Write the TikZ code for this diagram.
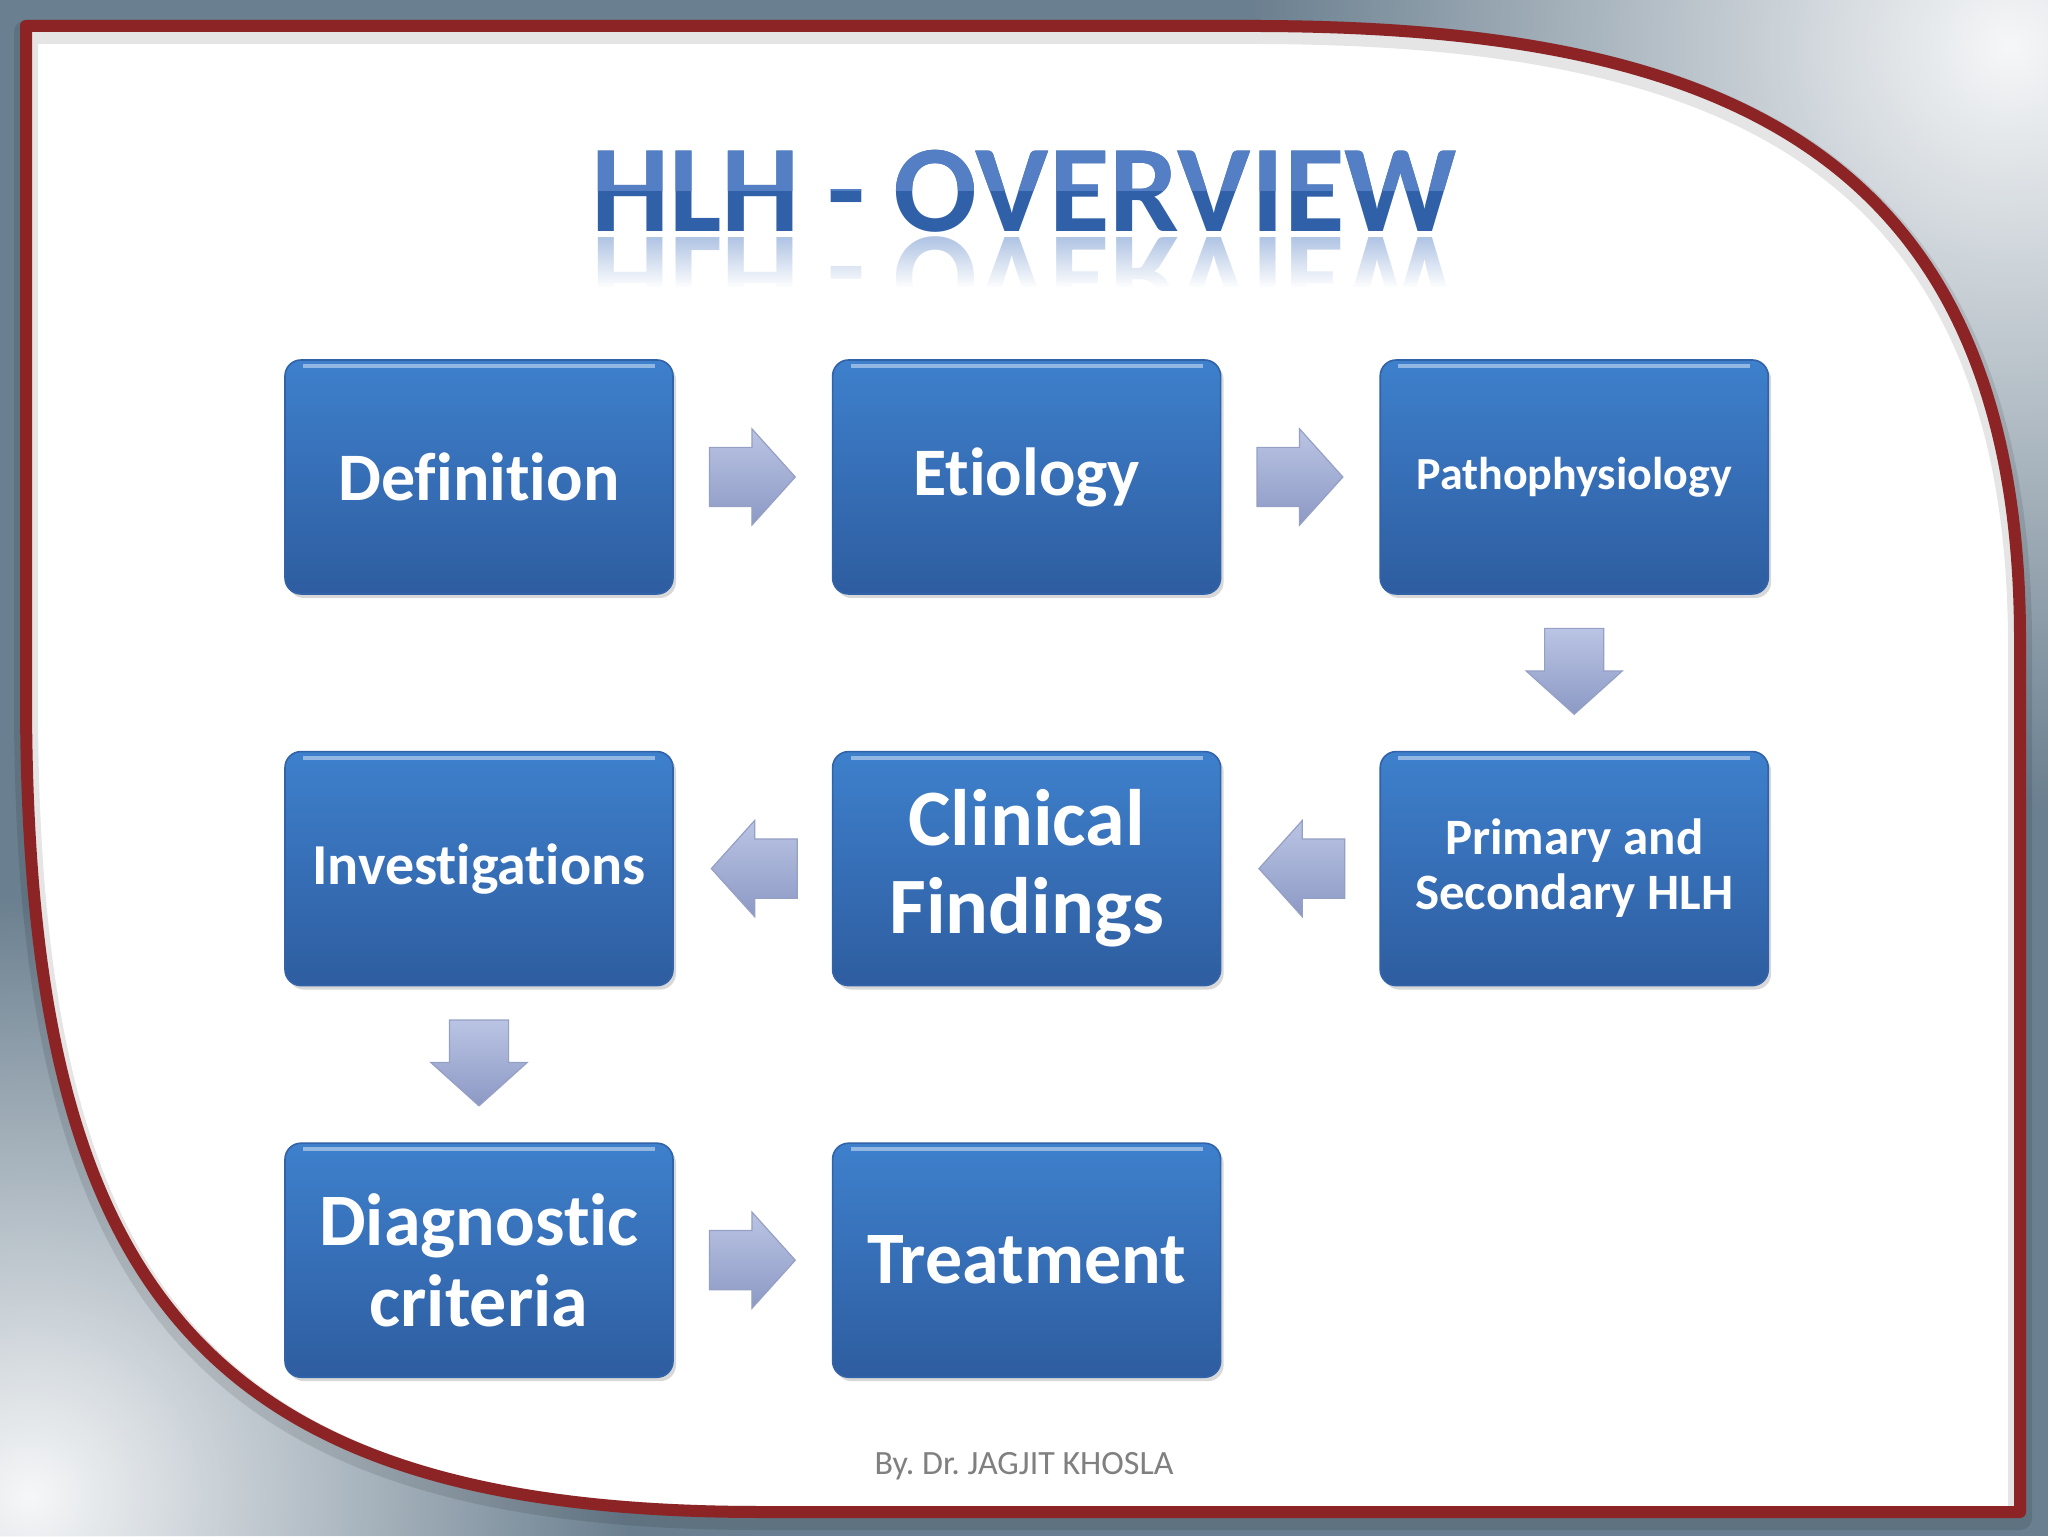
\documentclass[tikz,border=0pt]{standalone}
\usepackage{fontspec}
\setmainfont{Carlito}[Ligatures={NoCommon,NoContextual}]
\usetikzlibrary{positioning,calc,shapes.arrows,shadows,fadings}

\definecolor{slidebg}{RGB}{106,127,143}
\definecolor{framered}{RGB}{140,36,38}
\definecolor{boxtop}{RGB}{62,128,204}
\definecolor{boxbot}{RGB}{46,93,160}
\definecolor{boxline}{RGB}{50,98,168}
\definecolor{arrowtop}{RGB}{186,196,228}
\definecolor{arrowbot}{RGB}{140,153,196}
\definecolor{arrowline}{RGB}{150,160,196}
\definecolor{titledark}{RGB}{48,97,168}
\definecolor{titlelight}{RGB}{84,127,196}
\definecolor{footgray}{RGB}{128,128,128}

\tikzfading[name=mirrorfade, top color=transparent!100, bottom color=transparent!0]
\tikzfading[name=glowfade, inner color=transparent!0, outer color=transparent!100]

\tikzset{
  stepbox/.style={draw=boxline, line width=0.8pt, rounded corners=8pt, top color=boxtop, bottom color=boxbot,
    minimum width=194pt, minimum height=117pt, align=center, text=white, inner sep=2pt,
    drop shadow={opacity=0.3, shadow xshift=1.5pt, shadow yshift=-2pt},
    path picture={\draw[white!55!boxtop, line width=2pt, opacity=0.8]
      ([xshift=9pt,yshift=-3pt]path picture bounding box.north west) -- ([xshift=-9pt,yshift=-3pt]path picture bounding box.north east);}},
  flowarrow/.style={single arrow, draw=arrowline, line width=0.6pt, top color=arrowtop, bottom color=arrowbot,
    minimum height=42pt, minimum width=47.5pt, inner sep=14.5pt,
    single arrow head extend=9.25pt, single arrow tip angle=96},
  boxfont/.style 2 args={font=\bfseries\fontsize{#1}{#2}\selectfont},
  titlefont/.style={font=\bfseries\fontsize{62}{62}\selectfont, anchor=base, inner sep=0pt}
}

\begin{document}
\frenchspacing
\begin{tikzpicture}[x=0.5pt,y=0.5pt,node distance=78pt and 79pt]
  \useasboundingbox (0,0) rectangle (2048,1536);
  % slide background
  \fill[slidebg] (0,0) rectangle (2048,1536);
  \fill[white!94!slidebg, path fading=glowfade] (2010,1490) circle (760);
  \fill[white!94!slidebg, path fading=glowfade] (30,40) circle (600);
  \fill[white] (26,1510) -- (26,840) .. controls (26,250) and (200,24) .. (760,24) -- (2020,24) -- (2020,896) .. controls (2020,1400) and (1700,1510) .. (1250,1510) -- cycle;
  \draw[black, opacity=0.10, line width=12pt, yshift=-3pt, line join=round] (26,1510) -- (26,840) .. controls (26,250) and (200,24) .. (760,24) -- (2020,24) -- (2020,896) .. controls (2020,1400) and (1700,1510) .. (1250,1510) -- cycle;
  \draw[framered, line width=6pt, line join=round] (26,1510) -- (26,840) .. controls (26,250) and (200,24) .. (760,24) -- (2020,24) -- (2020,896) .. controls (2020,1400) and (1700,1510) .. (1250,1510) -- cycle;

  % title with reflection
  \node[titlefont, text=titledark] (title) at (1024,1304) {HLH - OVERVIEW};
  \begin{scope}
    \clip (500,1345) rectangle (1550,1420);
    \node[titlefont, text=titlelight] (titletop) at (1024,1304) {HLH - OVERVIEW};
  \end{scope}
  \node[titlefont, text=titlelight, yscale=-1, opacity=0.45] (mirror) at (1024,1298) {HLH - OVERVIEW};
  \fill[white, path fading=mirrorfade] (560,1298) rectangle (1490,1248);
  \fill[white] (560,1249) rectangle (1490,1200);

  % steps
  \node[stepbox, boxfont={34}{36}] (def) at (479,1059) {Definition};
  \node[stepbox, boxfont={34}{36}, right=of def] (eti) {Etiology};
  \node[stepbox, boxfont={23}{24}, right=of eti] (patho) {Pathophysiology};
  \node[stepbox, boxfont={25.5}{27.5}, below=of patho] (types) {Primary and\\Secondary HLH};
  \node[stepbox, boxfont={40}{44}, left=of types] (clin) {Clinical\\Findings};
  \node[stepbox, boxfont={29}{31}, left=of clin] (inv) {Investigations};
  \node[stepbox, boxfont={37}{40.5}, below=of inv] (diag) {Diagnostic\\criteria};
  \node[stepbox, boxfont={37}{40}, right=of diag] (treat) {Treatment};

  % block arrows
  \node[flowarrow, right=17.5pt of def] (a1) {};
  \node[flowarrow, right=17.5pt of eti] (a2) {};
  \node[flowarrow, shape border rotate=270, below=16.5pt of patho] (a3) {};
  \node[flowarrow, shape border rotate=180, left=17pt of types] (a4) {};
  \node[flowarrow, shape border rotate=180, left=17pt of clin] (a5) {};
  \node[flowarrow, shape border rotate=270, below=16.5pt of inv] (a6) {};
  \node[flowarrow, right=17.5pt of diag] (a7) {};

  \node[font=\fontsize{17}{17}\selectfont, text=footgray] (byline) at (1024,70) {By. Dr. JAGJIT KHOSLA};
\end{tikzpicture}
\end{document}
